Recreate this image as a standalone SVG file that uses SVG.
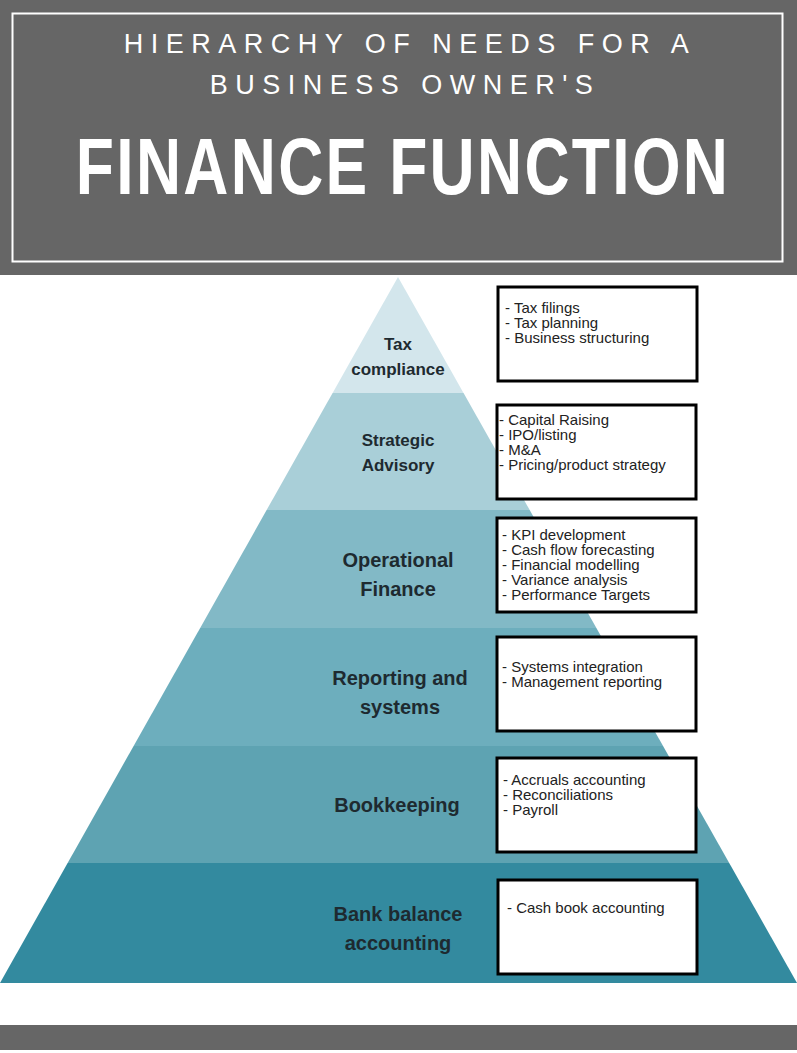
<svg xmlns="http://www.w3.org/2000/svg" width="797" height="1053" viewBox="0 0 797 1053">
<style>
.h{font-family:"Liberation Sans",sans-serif;fill:#fff}
.lbl{font-family:"Liberation Sans",sans-serif;font-weight:bold;fill:#1e2a30;text-anchor:middle}
.box{fill:#fff;stroke:#000;stroke-width:3}
.t{font-family:"Liberation Sans",sans-serif;font-size:15px;fill:#222}
</style>
<defs><clipPath id="pyr"><polygon points="398,277 797,983 0,983"/></clipPath></defs>
<rect width="797" height="1053" fill="#fff"/>
<g id="header">
<rect x="0" y="0" width="797" height="275" fill="#666"/>
<rect x="12.5" y="13.5" width="770" height="248" fill="none" stroke="#fff" stroke-width="2"/>
<text class="h" x="410" y="53" font-size="27" letter-spacing="7.5" text-anchor="middle">HIERARCHY OF NEEDS FOR A</text>
<text class="h" x="405" y="94" font-size="27" letter-spacing="7.5" text-anchor="middle">BUSINESS OWNER'S</text>
<text class="h" x="403" y="194" font-size="80" font-weight="bold" letter-spacing="3" text-anchor="middle" transform="translate(403 0) scale(0.78 1) translate(-403 0)">FINANCE FUNCTION</text>
</g>
<g id="pyramid" clip-path="url(#pyr)">
<rect x="0" y="277" width="797" height="116" fill="#d3e6ec"/>
<rect x="0" y="393" width="797" height="117" fill="#a9cfd8"/>
<rect x="0" y="510" width="797" height="118" fill="#82b9c6"/>
<rect x="0" y="628" width="797" height="118" fill="#6daebd"/>
<rect x="0" y="746" width="797" height="117" fill="#5ea3b2"/>
<rect x="0" y="863" width="797" height="120" fill="#338a9f"/>
</g>
<g id="tier1"><text class="lbl" font-size="17"><tspan x="398" y="350">Tax</tspan><tspan x="398" y="375">compliance</tspan></text>
<rect class="box" x="498" y="287" width="199" height="94"/>
<text class="t"><tspan x="505" y="313">- Tax filings</tspan><tspan x="505" y="328">- Tax planning</tspan><tspan x="505" y="343">- Business structuring</tspan></text></g>
<g id="tier2"><text class="lbl" font-size="17"><tspan x="398" y="446">Strategic</tspan><tspan x="398" y="471">Advisory</tspan></text>
<rect class="box" x="497" y="405" width="199" height="94"/>
<text class="t"><tspan x="499" y="425">- Capital Raising</tspan><tspan x="499" y="440">- IPO/listing</tspan><tspan x="499" y="455">- M&amp;A</tspan><tspan x="499" y="470">- Pricing/product strategy</tspan></text></g>
<g id="tier3"><text class="lbl" font-size="20"><tspan x="398" y="567">Operational</tspan><tspan x="398" y="596">Finance</tspan></text>
<rect class="box" x="497" y="518" width="199" height="94"/>
<text class="t"><tspan x="502" y="540">- KPI development</tspan><tspan x="502" y="555">- Cash flow forecasting</tspan><tspan x="502" y="570">- Financial modelling</tspan><tspan x="502" y="585">- Variance analysis</tspan><tspan x="502" y="600">- Performance Targets</tspan></text></g>
<g id="tier4"><text class="lbl" font-size="20"><tspan x="400" y="685">Reporting and</tspan><tspan x="400" y="714">systems</tspan></text>
<rect class="box" x="497" y="637" width="199" height="94"/>
<text class="t"><tspan x="502" y="672">- Systems integration</tspan><tspan x="502" y="687">- Management reporting</tspan></text></g>
<g id="tier5"><text class="lbl" font-size="20"><tspan x="397" y="812">Bookkeeping</tspan></text>
<rect class="box" x="497" y="758" width="199" height="94"/>
<text class="t"><tspan x="503" y="785">- Accruals accounting</tspan><tspan x="503" y="800">- Reconciliations</tspan><tspan x="503" y="815">- Payroll</tspan></text></g>
<g id="tier6"><text class="lbl" font-size="20"><tspan x="398" y="921">Bank balance</tspan><tspan x="398" y="950">accounting</tspan></text>
<rect class="box" x="498" y="880" width="199" height="94"/>
<text class="t"><tspan x="507" y="913">- Cash book accounting</tspan></text></g>
<g id="connectors"/>
<rect id="footer" x="0" y="1025" width="797" height="25" fill="#666"/>
</svg>
